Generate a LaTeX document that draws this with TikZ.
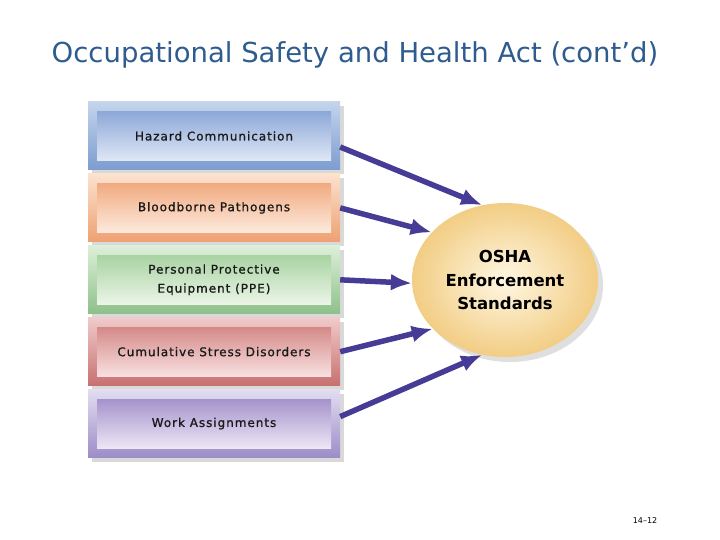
\documentclass[tikz,border=0pt]{standalone}
\usepackage{fontspec}
\setmainfont{DejaVu Sans}
\newfontfamily\boxfont[LetterSpace=8,FakeBold=1]{DejaVu Sans}
\usepackage{xcolor}
\usetikzlibrary{shapes.geometric,arrows.meta,positioning,shadows,calc}

\definecolor{titleblue}{HTML}{2F5C8E}
\definecolor{arrowblue}{HTML}{463C96}
\definecolor{hazardhi}{HTML}{C4D4EC}
\definecolor{hazardlo}{HTML}{7D9CCF}
\definecolor{hazardin}{HTML}{8DA8D8}
\definecolor{hazardout}{HTML}{DFE7F5}
\definecolor{bloodhi}{HTML}{FCE2CF}
\definecolor{bloodlo}{HTML}{EEA072}
\definecolor{bloodin}{HTML}{F1AA80}
\definecolor{bloodout}{HTML}{FDEADD}
\definecolor{ppehi}{HTML}{DDEFD9}
\definecolor{ppelo}{HTML}{8EC08A}
\definecolor{ppein}{HTML}{A9D3A3}
\definecolor{ppeout}{HTML}{EBF5E7}
\definecolor{stresshi}{HTML}{F1CACA}
\definecolor{stresslo}{HTML}{C77070}
\definecolor{stressin}{HTML}{D48A88}
\definecolor{stressout}{HTML}{F8E0E0}
\definecolor{workhi}{HTML}{E3DDF1}
\definecolor{worklo}{HTML}{9C8CC8}
\definecolor{workin}{HTML}{A593CC}
\definecolor{workout}{HTML}{ECE6F5}
\definecolor{oshain}{HTML}{FFF7E3}
\definecolor{oshaout}{HTML}{F2CD84}

\begin{document}
\begin{tikzpicture}[
    x=1pt, y=-1pt,
    font=\boxfont\fontsize{12}{19}\selectfont,
    % outer bevel frame and inner label panel of each row
    frame/.style={rectangle, minimum width=252pt, minimum height=68pt, inner sep=0pt,
        drop shadow={opacity=0.3, shadow xshift=4pt, shadow yshift=-4pt}},
    panel/.style={rectangle, minimum width=234pt, minimum height=49pt, inner sep=0pt,
        align=center, text=black!90},
    push/.style={-{Latex[length=21pt,width=17pt]}, line width=5.5pt, draw=arrowblue}
]
    \useasboundingbox (0,0) rectangle (720,540);

    % --- Title ---
    \node[font=\normalfont\fontsize{27.5}{32}\selectfont, text=titleblue] (title) at (355,55)
        {Occupational Safety and Health Act (cont’d)};

    % --- Rows ---
    \node[frame, top color=hazardhi, bottom color=hazardlo] (hazard) at (214,136) {};
    \node[panel, top color=hazardin, bottom color=hazardout] (hazardtxt) at (hazard) {Hazard Communication};

    \node[frame, below=3.5pt of hazard, top color=bloodhi, bottom color=bloodlo] (blood) {};
    \node[panel, top color=bloodin, bottom color=bloodout] (bloodtxt) at (blood) {Bloodborne Pathogens};

    \node[frame, below=3.5pt of blood, top color=ppehi, bottom color=ppelo] (ppe) {};
    \node[panel, top color=ppein, bottom color=ppeout] (ppetxt) at (ppe) {Personal Protective\\Equipment (PPE)};

    \node[frame, below=3.5pt of ppe, top color=stresshi, bottom color=stresslo] (stress) {};
    \node[panel, top color=stressin, bottom color=stressout] (stresstxt) at (stress) {Cumulative Stress Disorders};

    \node[frame, below=3.5pt of stress, top color=workhi, bottom color=worklo] (work) {};
    \node[panel, top color=workin, bottom color=workout] (worktxt) at (work) {Work Assignments};

    % --- Standards ellipse ---
    \node[ellipse, minimum width=186pt, minimum height=154pt, inner sep=0pt,
        shading=radial, inner color=oshain, outer color=oshaout,
        drop shadow={opacity=0.25, shadow xshift=5pt, shadow yshift=-5pt},
        font=\normalfont\bfseries\fontsize{16.5}{23.5}\selectfont, align=center] (osha) at (505,280)
        {OSHA\\Enforcement\\Standards};

    % --- Arrows ---
    \draw[push] ([yshift=-11pt]hazard.east) -- (osha.107);
    \draw[push] (blood.east) -- (osha.147);
    \draw[push] (ppe.east) -- (osha.182);
    \draw[push] (stress.east) -- (osha.214);
    \draw[push] ([yshift=7pt]work.east) -- (osha.253);

    % --- Page number ---
    \node[font=\normalfont\fontsize{8}{9}\selectfont] (pageno) at (645,521) {14–12};
\end{tikzpicture}
\end{document}
